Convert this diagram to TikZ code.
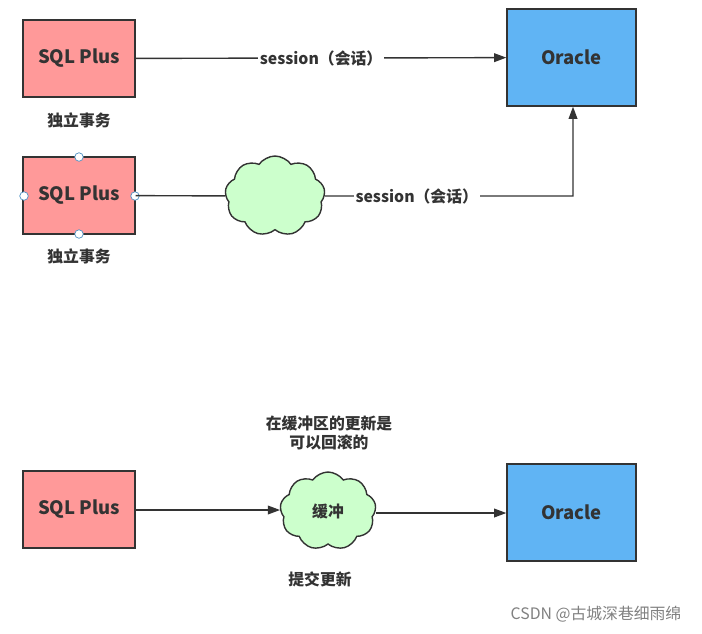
\documentclass[tikz,border=0pt]{standalone}
\usepackage{fontspec}
\setmainfont{Noto Sans CJK SC}
\usetikzlibrary{shapes.symbols,arrows.meta}
\definecolor{sqlred}{HTML}{FF9999}
\definecolor{orablue}{HTML}{60B4F4}
\definecolor{cloudgreen}{HTML}{CCFFCC}
\definecolor{linec}{HTML}{333333}
\begin{document}
\begin{tikzpicture}[x=0.02cm,y=-0.02cm,
  box/.style={draw=linec,thick,font=\bfseries\fontsize{10.5}{12}\selectfont,text=linec,inner sep=0},
  sql/.style={box,fill=sqlred,minimum width=2.24cm,minimum height=1.54cm},
  ora/.style={box,fill=orablue,minimum width=2.58cm,minimum height=1.94cm},
  cl/.style={cloud,cloud puffs=9,cloud puff arc=110,aspect=1.2,draw=linec,thick,fill=cloudgreen,inner sep=0,font=\bfseries\small,text=linec},
  lbl/.style={font=\bfseries\small,text=linec,fill=white,inner sep=1pt},
  arr/.style={thick,linec,-{Triangle[length=7pt,width=5pt]}},
  handle/.style={circle,draw=orablue!80!black,fill=white,inner sep=0,minimum size=0.17cm}]
\useasboundingbox (0,0) rectangle (702,633);
% top row
\node[sql] (s1) at (79,58.5) {SQL Plus};
\node[ora] (o1) at (571.5,57.5) {Oracle};
\node[lbl] (t1) at (79,120) {独立事务};
\draw[arr] (s1) -- node[lbl] {session（会话）} (o1);
% second row
\node[sql] (s2) at (79,195.5) {SQL Plus};
\node[cl,minimum width=2.0cm,minimum height=1.6cm] (c1) at (275,196) {};
\node[lbl] (t2) at (79,256) {独立事务};
\foreach \p/\n in {(79,157)/h1,(24,196)/h2,(135,196)/h3,(79,234)/h4} \node[handle] (\n) at \p {};
\draw[thick,linec] (s2) -- (c1);
\coordinate (k) at (573,196);
\draw[arr] (c1.east) -- node[lbl,pos=0.37] {session（会话）} (k) -- (o1.south -| k);
% bottom row
\node[sql] (s3) at (79,509.5) {SQL Plus};
\node[cl,minimum width=1.92cm,minimum height=1.56cm] (c2) at (328,511) {缓冲};
\node[ora] (o3) at (571.5,512.5) {Oracle};
\draw[arr] (s3.east |- 0,510) -- (c2.west |- 0,510);
\draw[arr] (c2.east |- 0,513) -- (o3.west |- 0,513);
\node[lbl,align=center] (n1) at (329,433) {在缓冲区的更新是\\可以回滚的};
\node[lbl] (n2) at (320,579) {提交更新};
\node[font=\small,text=gray] (w) at (596,614) {CSDN @古城深巷细雨绵};
\end{tikzpicture}
\end{document}
